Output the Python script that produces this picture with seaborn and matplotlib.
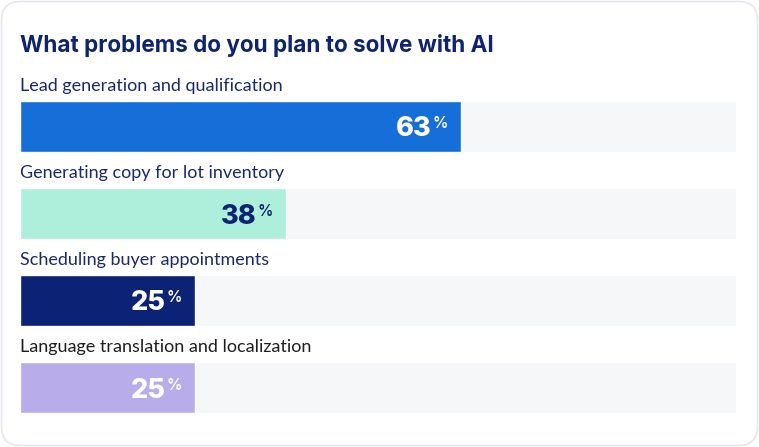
import matplotlib
matplotlib.use("Agg")
import matplotlib.pyplot as plt
from matplotlib.patches import FancyBboxPatch
import seaborn as sns

# Datos
categorias = [
    "Lead generation and qualification",
    "Generating copy for lot inventory",
    "Scheduling buyer appointments",
    "Language translation and localization",
]
valores = [63, 38, 25, 25]
colores = ["#166FD8", "#AEEFDC", "#0C2275", "#B9ACEA"]
color_valor = ["white", "#0E2470", "white", "white"]
color_etiqueta = ["#1B2A6B", "#1B2A6B", "#1B2A6B", "#1E1E1E"]
titulo = "What problems do you plan to solve with AI"

W, H = 759, 447
sns.set_theme(style="white")

fig = plt.figure(figsize=(W / 100, H / 100), dpi=100)
fig.patch.set_facecolor("white")

# tarjeta con borde redondeado (debajo de los ejes)
tarjeta = FancyBboxPatch((1.5 / W, 1.5 / H), (W - 3) / W, (H - 3) / H,
                         boxstyle="round,pad=0,rounding_size=0.025",
                         transform=fig.transFigure, facecolor="white",
                         edgecolor="#E4E7EC", linewidth=1.2,
                         mutation_aspect=W / H, zorder=-5)
fig.patches.append(tarjeta)

xmax = 102.3
ancho = 0.59
ax = fig.add_axes([20 / W, (H - 431) / H, 716 / W, 348 / H])
ax.set_facecolor("none")
ax.set_zorder(1)

# pistas grises de fondo
ax.barh(range(len(categorias)), [xmax] * len(categorias), height=ancho,
        color="#F6F7F9", zorder=0)
sns.barplot(x=valores, y=categorias, hue=categorias, palette=colores,
            width=ancho, legend=False, orient="h", ax=ax, zorder=2,
            saturation=1)

ax.set_xlim(0, xmax)
ax.set_ylim(3.5, -0.5)
ax.set_xlabel("")
ax.set_ylabel("")
ax.set_xticks([])
ax.set_yticks([])
for s in ax.spines.values():
    s.set_visible(False)

for i, (cat, v) in enumerate(zip(categorias, valores)):
    # etiqueta encima de la barra
    ax.annotate(cat, xy=(0, i - ancho / 2), xytext=(0, 9.5),
                textcoords="offset pixels", ha="left", va="baseline",
                fontsize=13, color=color_etiqueta[i], family="Lato",
                annotation_clip=False)
    # valor dentro de la barra
    ax.annotate(str(v), xy=(v, i), xytext=(-29, -10),
                textcoords="offset pixels", ha="right", va="baseline",
                fontsize=19.5, fontweight="heavy", color=color_valor[i],
                family="Inter", zorder=5)
    ax.annotate("%", xy=(v, i), xytext=(-28.5, 10),
                textcoords="offset pixels", ha="left", va="top",
                fontsize=11, fontweight="semibold", color=color_valor[i],
                family="Inter", zorder=5)

fig.text(20 / W, 1 - 52 / H, titulo, ha="left", va="baseline",
         fontsize=16.2, fontweight="bold", color="#0E2470", family="Inter")

fig.savefig("out.png", dpi=100, facecolor="white")
